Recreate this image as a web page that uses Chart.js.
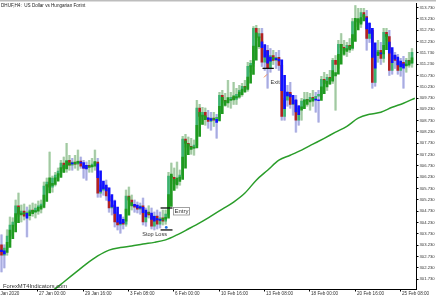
<!DOCTYPE html>
<html>
<head>
<meta charset="utf-8">
<script src="https://cdn.jsdelivr.net/npm/chart.js@4.4.1/dist/chart.umd.min.js"></script>
<style>
  html, body { margin: 0; padding: 0; background: #fff; }
  #wrap { width: 436px; height: 300px; }
</style>
</head>
<body>
<div id="wrap"><canvas id="chart" width="436" height="300"></canvas></div>
<script>
// USDHUF H4 candles (one value per bar)
const barOpen = [
  303.24, 302.79, 303.10, 303.63, 304.12, 304.25, 304.96, 304.60, 304.73, 304.51,
  304.69, 304.78, 304.69, 304.87, 304.96, 305.04, 305.84, 306.01, 305.79, 306.19,
  306.32, 306.50, 306.85, 306.63, 306.98, 306.76, 306.90, 306.81, 306.94, 306.72,
  306.63, 306.76, 306.67, 306.81, 306.90, 305.53, 305.66, 305.79, 305.40, 304.87,
  305.00, 304.25, 304.12, 304.25, 304.16, 305.40, 305.22, 305.00, 304.91, 304.82,
  304.96, 304.25, 304.69, 304.56, 304.07, 304.51, 304.16, 304.43, 304.29, 304.60,
  306.28, 306.23, 305.93, 306.19, 306.32, 307.91, 307.73, 307.60, 307.51, 307.65,
  309.28, 308.92, 309.10, 308.84, 308.70, 308.84, 308.75, 308.88, 309.85, 309.63,
  309.54, 309.63, 309.76, 309.67, 309.89, 310.07, 310.25, 310.16, 311.13, 311.26,
  312.81, 312.41, 312.58, 311.31, 311.84, 311.04, 311.61, 311.39, 311.53, 311.17,
  308.92, 309.63, 309.98, 309.45, 309.63, 308.75, 309.28, 309.59, 309.67, 309.63,
  309.76, 309.67, 309.81, 309.89, 310.56, 310.38, 310.64, 310.51, 311.39, 311.22,
  312.10, 311.97, 311.84, 312.06, 311.92, 313.11, 313.20, 313.07, 313.51, 313.33,
  312.36, 312.72, 310.42, 311.61, 311.84, 311.48, 312.63, 312.45, 310.95, 311.61,
  311.39, 310.95, 311.31, 311.17, 311.39, 311.26
];
const barHigh = [
  303.68, 303.24, 303.90, 304.47, 304.43, 305.22, 305.53, 305.00, 305.04, 304.91,
  305.00, 305.09, 305.04, 305.18, 305.22, 306.01, 306.19, 307.34, 306.28, 306.45,
  306.63, 306.98, 307.12, 307.73, 307.20, 307.07, 307.20, 307.43, 307.12, 306.98,
  306.90, 306.98, 307.07, 307.43, 307.07, 305.88, 305.97, 306.10, 305.75, 305.22,
  305.22, 304.69, 304.56, 304.47, 305.66, 305.79, 305.44, 305.22, 305.13, 305.09,
  305.31, 304.87, 304.96, 304.87, 304.69, 304.78, 304.69, 304.78, 304.78, 306.45,
  306.85, 306.63, 306.90, 306.54, 308.04, 308.13, 308.00, 307.95, 307.87, 309.63,
  309.45, 309.32, 309.28, 309.19, 309.10, 309.10, 309.01, 309.98, 310.07, 309.94,
  310.51, 309.98, 310.42, 310.16, 310.29, 310.38, 310.51, 311.31, 311.39, 312.89,
  312.94, 312.81, 312.81, 312.06, 312.06, 311.92, 311.84, 311.75, 311.84, 311.39,
  309.72, 310.29, 310.42, 309.81, 309.85, 309.41, 309.72, 309.98, 309.98, 309.94,
  310.07, 309.98, 310.07, 310.69, 310.87, 310.78, 310.95, 311.48, 311.61, 312.28,
  312.58, 312.28, 312.19, 312.36, 313.25, 313.82, 313.69, 313.69, 313.69, 313.60,
  313.07, 312.81, 311.92, 312.28, 312.19, 312.81, 312.81, 312.72, 311.84, 311.75,
  311.66, 311.48, 311.57, 311.48, 311.75, 311.92
];
const barLow = [
  302.04, 302.22, 302.79, 303.37, 303.68, 304.07, 304.51, 304.25, 304.34, 303.59,
  304.34, 304.51, 304.43, 304.60, 304.65, 304.87, 305.57, 305.66, 305.57, 305.84,
  306.10, 306.28, 306.45, 306.45, 306.54, 306.54, 306.63, 306.54, 306.63, 306.19,
  306.10, 306.45, 306.45, 306.54, 305.35, 305.35, 305.44, 305.22, 304.69, 304.56,
  304.03, 303.90, 303.76, 303.94, 304.07, 305.04, 304.78, 304.69, 304.65, 304.60,
  304.12, 304.07, 304.43, 303.94, 303.90, 303.94, 303.99, 304.12, 304.16, 304.51,
  306.10, 305.75, 305.75, 305.88, 306.19, 307.56, 307.43, 307.25, 307.20, 307.51,
  308.75, 308.57, 308.53, 308.40, 308.31, 308.48, 307.95, 308.75, 309.50, 309.37,
  309.32, 309.28, 309.45, 309.45, 309.72, 309.81, 309.98, 310.03, 310.87, 311.13,
  312.28, 311.92, 311.13, 310.95, 310.16, 310.87, 311.22, 311.04, 310.95, 308.75,
  308.75, 309.37, 309.28, 308.97, 308.22, 308.53, 308.75, 309.28, 309.37, 309.19,
  309.37, 309.10, 308.66, 309.76, 310.25, 310.07, 310.34, 310.38, 309.19, 311.04,
  311.75, 311.61, 311.57, 311.75, 311.84, 312.89, 312.98, 312.85, 313.16, 311.84,
  312.19, 310.16, 310.25, 311.31, 311.22, 311.31, 312.28, 310.73, 310.78, 311.04,
  310.78, 310.69, 310.16, 310.87, 311.09, 311.09
];
const barClose = [
  302.79, 303.10, 303.63, 304.12, 304.25, 304.96, 304.60, 304.73, 304.51, 304.69,
  304.78, 304.69, 304.87, 304.96, 305.04, 305.84, 306.01, 305.79, 306.19, 306.32,
  306.50, 306.85, 306.63, 306.98, 306.76, 306.90, 306.81, 306.94, 306.72, 306.63,
  306.76, 306.67, 306.81, 306.90, 305.53, 305.66, 305.79, 305.40, 304.87, 305.00,
  304.25, 304.12, 304.25, 304.16, 305.40, 305.22, 305.00, 304.91, 304.82, 304.96,
  304.25, 304.69, 304.56, 304.07, 304.51, 304.16, 304.43, 304.29, 304.60, 306.28,
  306.23, 305.93, 306.19, 306.32, 307.91, 307.73, 307.60, 307.51, 307.65, 309.28,
  308.92, 309.10, 308.84, 308.70, 308.84, 308.75, 308.88, 309.85, 309.63, 309.54,
  309.63, 309.76, 309.67, 309.89, 310.07, 310.25, 310.16, 311.13, 311.26, 312.81,
  312.41, 312.58, 311.31, 311.84, 311.04, 311.61, 311.39, 311.53, 311.17, 308.92,
  309.63, 309.98, 309.45, 309.63, 308.75, 309.28, 309.59, 309.67, 309.63, 309.76,
  309.67, 309.81, 309.89, 310.56, 310.38, 310.64, 310.51, 311.39, 311.22, 312.10,
  311.97, 311.84, 312.06, 311.92, 313.11, 313.20, 313.07, 313.51, 313.33, 312.36,
  312.72, 310.42, 311.61, 311.84, 311.48, 312.63, 312.45, 310.95, 311.61, 311.39,
  310.95, 311.31, 311.17, 311.39, 311.26, 311.75
];

// moving average line at these bars
const maBars = [10, 18, 22, 26, 30, 34, 38, 42, 46, 50, 54, 58, 62, 66, 70, 74, 78,
  82, 86, 90, 94, 98, 102, 106, 110, 114, 118, 122, 126, 130, 134, 138, 142, 146];
const maValues = [300.54, 301.21, 301.60, 302.00, 302.40, 302.75, 303.01, 303.12, 303.19,
  303.28, 303.35, 303.46, 303.68, 303.94, 304.21, 304.51, 304.82, 305.13, 305.53, 306.10,
  306.54, 306.98, 307.20, 307.43, 307.69, 307.95, 308.22, 308.48, 308.84, 309.01, 309.10,
  309.32, 309.50, 309.72];

const yTicks = [301.73, 302.23, 302.73, 303.23, 303.73, 304.23, 304.73, 305.23, 305.73,
  306.23, 306.73, 307.23, 307.73, 308.23, 308.73, 309.23, 309.73, 310.23, 310.73, 311.23,
  311.73, 312.23, 312.73, 313.23, 313.73];
const xTickBars = [-3.3, 12.7, 28.7, 44.7, 60.7, 76.7, 92.7, 108.7, 124.7, 140.7];
const xTickLabels = ["24 Jan 2020", "27 Jan 00:00", "29 Jan 16:00", "3 Feb 08:00", "6 Feb 00:00",
  "10 Feb 16:00", "13 Feb 08:00", "18 Feb 00:00", "20 Feb 16:00", "25 Feb 08:00"];

// trade marks
const entryPrice = 304.87, entryBars = [56.2, 60.4];
const stopPrice = 303.90, stopBars = [56.2, 60.4], stopDot = [58.2, 304.01];
const exitPrice = 311.04, exitBars = [92.2, 96.2];

// heiken ashi overlay built from the candles above
const haOpen = [], haClose = [];
for (let i = 0; i < barOpen.length; i++) {
  haClose.push((barOpen[i] + barHigh[i] + barLow[i] + barClose[i]) / 4);
  haOpen.push(i === 0 ? (barOpen[0] + barClose[0]) / 2 : (haOpen[i - 1] + haClose[i - 1]) / 2);
}
const idx = barOpen.map((_, i) => i);
const haBull = idx.map(i => haClose[i] >= haOpen[i]);

Chart.defaults.font.family = "'Liberation Sans', Arial, sans-serif";

const overlay = {
  id: "overlay",
  afterDraw(chart) {
    const { ctx, chartArea } = chart;
    const x = chart.scales.x, y = chart.scales.y;
    ctx.save();
    ctx.fillStyle = "#bdbdbd";
    ctx.fillRect(0, 0, chart.width, 1.5);

    // time axis
    ctx.strokeStyle = "#000";
    ctx.lineWidth = 1;
    ctx.fillStyle = "#333";
    ctx.font = "4.6px 'Liberation Sans'";
    ctx.textBaseline = "middle";
    ctx.textAlign = "left";
    xTickBars.forEach((b, i) => {
      const px = Math.round(x.getPixelForValue(b)) + 0.5;
      ctx.beginPath();
      ctx.moveTo(px, chartArea.bottom);
      ctx.lineTo(px, chartArea.bottom + 2.5);
      ctx.stroke();
      ctx.fillText(xTickLabels[i], px + 1.5, chartArea.bottom + 5);
    });

    ctx.fillStyle = "#222";
    ctx.font = "4.6px 'Liberation Sans'";
    ctx.fillText("DHUF,H4:  US Dollar vs Hungarian Forint", 1, 5.5);

    ctx.fillStyle = "#333";
    ctx.font = "5.8px 'Liberation Sans'";
    ctx.fillText("ForexMT4Indicators.com", 3, 286);

    // entry
    const ey = y.getPixelForValue(entryPrice);
    const e0 = x.getPixelForValue(entryBars[0]), e1 = x.getPixelForValue(entryBars[1]);
    ctx.strokeStyle = "#111";
    ctx.lineWidth = 1.3;
    ctx.beginPath(); ctx.moveTo(e0, ey); ctx.lineTo(e1, ey); ctx.stroke();
    ctx.fillStyle = "#fff";
    ctx.fillRect(e1 + 1, ey - 0.5, 16, 7.5);
    ctx.strokeStyle = "#8a8a8a";
    ctx.lineWidth = 0.8;
    ctx.strokeRect(e1 + 1, ey - 0.5, 16, 7.5);
    ctx.fillStyle = "#333";
    ctx.font = "6px 'Liberation Sans'";
    ctx.fillText("Entry", e1 + 2, ey + 3.3);

    // stop loss
    const sy = y.getPixelForValue(stopPrice);
    const s0 = x.getPixelForValue(stopBars[0]), s1 = x.getPixelForValue(stopBars[1]);
    ctx.strokeStyle = "#111";
    ctx.lineWidth = 1.3;
    ctx.beginPath(); ctx.moveTo(s0, sy); ctx.lineTo(s1, sy); ctx.stroke();
    ctx.fillStyle = "#1e6fe0";
    ctx.beginPath();
    ctx.arc(x.getPixelForValue(stopDot[0]), y.getPixelForValue(stopDot[1]), 1.4, 0, Math.PI * 2);
    ctx.fill();
    ctx.fillStyle = "#333";
    ctx.font = "5.6px 'Liberation Sans'";
    ctx.textAlign = "center";
    ctx.fillText("Stop Loss", s0 - 6, sy + 5);

    // exit
    const xy = y.getPixelForValue(exitPrice);
    const x0 = x.getPixelForValue(exitBars[0]), x1 = x.getPixelForValue(exitBars[1]);
    ctx.strokeStyle = "#111";
    ctx.beginPath(); ctx.moveTo(x0, xy); ctx.lineTo(x1, xy); ctx.stroke();
    ctx.strokeStyle = "#f08040";
    ctx.lineWidth = 0.9;
    ctx.beginPath(); ctx.moveTo(x0 + 1.5, xy + 9); ctx.lineTo(x0 + 4.5, xy + 6); ctx.stroke();
    ctx.fillStyle = "#333";
    ctx.font = "5.5px 'Liberation Sans'";
    ctx.textAlign = "left";
    ctx.fillText("Exit", x0 + 8, xy + 14);
    ctx.restore();
  }
};

new Chart(document.getElementById("chart"), {
  type: "bar",
  data: {
    datasets: [
      {
        type: "line",
        data: maBars.map((b, i) => ({ x: b, y: maValues[i] })),
        borderColor: "#2a9d2a",
        borderWidth: 1.5,
        pointRadius: 0,
        cubicInterpolationMode: "monotone",
        order: 0
      },
      {
        // heiken ashi bodies
        data: idx.map(i => ({ x: i, y: [haOpen[i], haClose[i]] })),
        backgroundColor: idx.map(i => haBull[i] ? "#1f9a1f" : "#1010ff"),
        barThickness: 2,
        minBarLength: 1,
        grouped: false,
        order: 1
      },
      {
        // candle bodies
        data: idx.map(i => ({ x: i, y: [barOpen[i], barClose[i]] })),
        backgroundColor: idx.map(i => barClose[i] >= barOpen[i] ? "#3cb371" : "#b22222"),
        barThickness: 2,
        minBarLength: 1,
        grouped: false,
        order: 2
      },
      {
        // heiken ashi wicks
        data: idx.map(i => ({ x: i, y: [barLow[i], barHigh[i]] })),
        backgroundColor: idx.map(i => haBull[i] ? "rgba(150,215,150,0.55)" : "rgba(160,165,255,0.55)"),
        barThickness: 2,
        grouped: false,
        order: 3
      },
      {
        // candle wicks
        data: idx.map(i => ({ x: i, y: [barLow[i], barHigh[i]] })),
        backgroundColor: "#b4b4b4",
        barThickness: 1,
        grouped: false,
        order: 4
      }
    ]
  },
  options: {
    responsive: false,
    animation: false,
    devicePixelRatio: 1,
    layout: { padding: { top: 3, left: 0, right: 0, bottom: 0 } },
    plugins: { legend: { display: false }, tooltip: { enabled: false } },
    scales: {
      x: {
        type: "linear",
        min: -0.53,
        max: 146.6,
        offset: false,
        grid: { display: false },
        border: { display: true, color: "#000", width: 1 },
        ticks: { display: false },
        afterFit: s => { s.height = 11; }
      },
      y: {
        position: "right",
        min: 301.29,
        max: 313.906,
        grid: { display: true, drawOnChartArea: false, drawTicks: true, tickLength: 2, color: "#000" },
        border: { display: true, color: "#000", width: 1 },
        ticks: {
          padding: 1,
          color: "#333",
          font: { size: 4.2 },
          callback: v => v.toFixed(3)
        },
        afterBuildTicks: s => { s.ticks = yTicks.map(v => ({ value: v })); },
        afterFit: s => { s.width = 19.5; }
      }
    }
  },
  plugins: [overlay]
});
</script>
</body>
</html>
